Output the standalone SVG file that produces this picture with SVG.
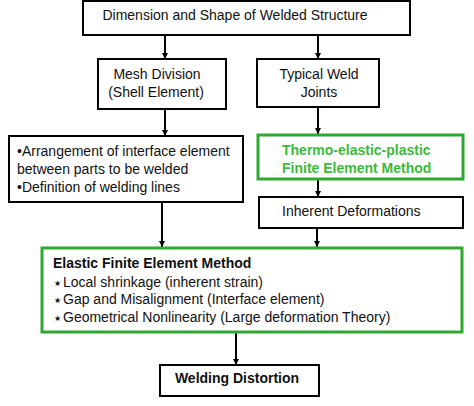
<svg xmlns="http://www.w3.org/2000/svg" width="474" height="406" viewBox="0 0 474 406">
<defs>
<marker id="ah" viewBox="0 0 6 10" refX="6" refY="5" markerWidth="6" markerHeight="10" markerUnits="userSpaceOnUse" orient="auto">
<path d="M0,2 L6,5 L0,8 Z" fill="#000"/>
</marker>
<style>
.box{fill:#fff;stroke:#000;stroke-width:2}
.gbox{fill:#fff;stroke:#2ea82e;stroke-width:3}
.t{font-family:"Liberation Sans",Arial,sans-serif;font-size:14px;fill:#111}
.c{text-anchor:middle}
.b{font-weight:bold}
.g{fill:#3cb93c;font-weight:bold}
.st{font-size:8px}
.conn line{stroke:#000;stroke-width:2;marker-end:url(#ah)}
</style>
</defs>
<rect width="474" height="406" fill="#fff"/>
<g class="conn">
<line x1="165" y1="35" x2="165" y2="59"/>
<line x1="318" y1="35" x2="318" y2="59"/>
<line x1="165" y1="109" x2="165" y2="136"/>
<line x1="318" y1="107" x2="318" y2="134"/>
<line x1="318" y1="179" x2="318" y2="197"/>
<line x1="162" y1="202" x2="162" y2="247"/>
<line x1="317" y1="228" x2="317" y2="247"/>
<line x1="236" y1="332" x2="236" y2="365"/>
</g>
<g id="top">
<rect class="box" x="83" y="1" width="327" height="34"/>
<text class="t c" x="235" y="20">Dimension and Shape of Welded Structure</text>
</g>
<g id="mesh">
<rect class="box" x="98" y="59" width="128" height="50"/>
<text class="t c" x="157" y="79">Mesh Division</text>
<text class="t c" x="156" y="97">(Shell Element)</text>
</g>
<g id="joints">
<rect class="box" x="257" y="59" width="122" height="48"/>
<text class="t c" x="319" y="79">Typical Weld</text>
<text class="t c" x="319" y="97">Joints</text>
</g>
<g id="interface">
<rect class="box" x="9" y="136" width="234" height="66"/>
<text class="t" x="17" y="156">•Arrangement of interface element</text>
<text class="t" x="17" y="174">between parts to be welded</text>
<text class="t" x="17" y="192">•Definition of welding lines</text>
</g>
<g id="thermo">
<rect class="gbox" x="258" y="135" width="205" height="44"/>
<text class="t g" x="282" y="155">Thermo-elastic-plastic</text>
<text class="t g" x="282" y="173">Finite Element Method</text>
</g>
<g id="inherent">
<rect class="box" x="259" y="197" width="204" height="31"/>
<text class="t" x="282" y="216">Inherent Deformations</text>
</g>
<g id="elastic">
<rect class="gbox" x="42" y="248" width="420" height="84"/>
<text class="t b" x="53" y="268">Elastic Finite Element Method</text>
<text class="t st" x="54" y="286">★</text>
<text class="t" x="63" y="287">Local shrinkage (inherent strain)</text>
<text class="t st" x="54" y="303">★</text>
<text class="t" x="63" y="304">Gap and Misalignment (Interface element)</text>
<text class="t st" x="54" y="321">★</text>
<text class="t" x="63" y="322">Geometrical Nonlinearity (Large deformation Theory)</text>
</g>
<g id="distortion">
<rect class="box" x="160" y="365" width="159" height="31"/>
<text class="t b c" x="237" y="383">Welding Distortion</text>
</g>
</svg>
